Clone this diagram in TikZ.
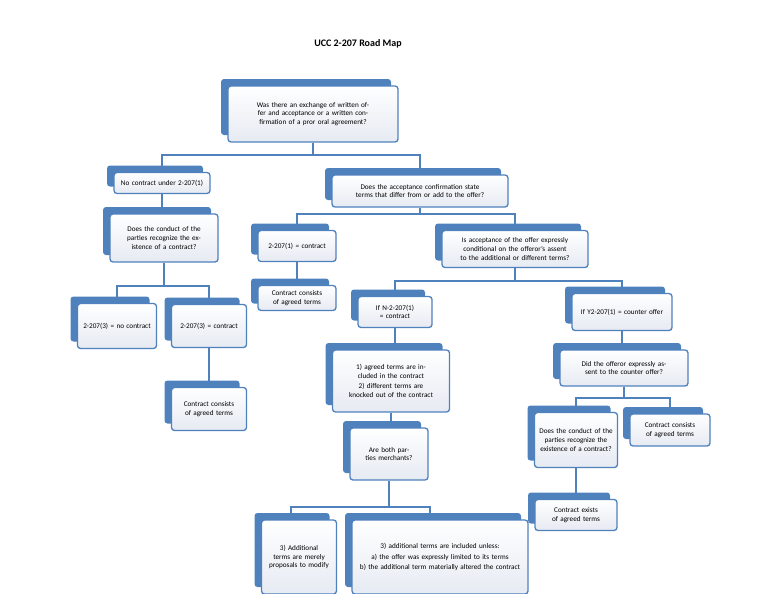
\documentclass[tikz,border=0pt]{standalone}
\usepackage{fontspec}
\setmainfont{Carlito}
\definecolor{tabblue}{HTML}{4F81BD}
\definecolor{lightf}{HTML}{E6EAF2}
\tikzset{
  front/.style={draw=tabblue, line width=1.3pt, rounded corners=3pt, top color=white, bottom color=lightf, align=center, inner sep=1pt, font=\fontsize{7.2}{8.6}\selectfont},
  tab/.style={fill=tabblue, rounded corners=3pt},
  link/.style={draw=tabblue, line width=1.1pt}
}
\newcommand\bx[6]{%
  \fill[tab] ({#2-#4/2-7},{#3-#5/2-7}) rectangle ++(#4,#5);
  \node[front, minimum width=#4pt, minimum height=#5pt, text width={#4pt-8pt}] (#1) at (#2,#3) {#6};
}
\begin{document}
\begin{tikzpicture}[x=1pt,y=-1pt]
\useasboundingbox (0,0) rectangle (768,594);
\node[font=\bfseries\fontsize{10}{12}\selectfont] (title) at (358,44) {UCC 2-207 Road Map};
\bx{q1}{313}{114}{170}{56}{Was there an exchange of written offer and acceptance or a written confirmation of a pror oral agreement?}
\bx{nc}{162}{183}{96}{21}{No contract under 2-207(1)}
\bx{q2}{420}{191}{176}{32}{Does the acceptance confirmation state terms that differ from or add to the offer?}
\bx{q3}{164}{238}{108}{48}{Does the conduct of the parties recognize the existence of a contract?}
\bx{c1}{297}{246}{78}{31}{2-207(1) = contract}
\bx{q4}{515}{249}{146}{37}{Is acceptance of the offer expressly conditional on the offeror's assent to the additional or different terms?}
\bx{ca}{297}{298}{78}{25}{Contract consists of agreed terms}
\bx{n3}{117}{326}{79}{45}{2-207(3) = no contract}
\bx{y3}{209}{326}{75}{43}{2-207(3) = contract}
\bx{nn}{395}{312}{74}{31}{If N-2-207(1) = contract}
\bx{yy}{622}{312}{100}{37}{If Y2-207(1) = counter offer}
\bx{t12}{391}{381}{117}{62}{1) agreed terms are included in the contract\\[2pt] 2) different terms are knocked out of the contract}
\bx{q5}{624}{368}{128}{36}{Did the offeror expressly assent to the counter offer?}
\bx{cb}{209}{409}{75}{43}{Contract consists of agreed terms}
\bx{q6}{389}{454}{78}{52}{Are both parties merchants?}
\bx{q7}{576}{440}{83}{55}{Does the conduct of the parties recognize the existence of a contract?}
\bx{cc}{670}{430}{80}{32}{Contract consists of agreed terms}
\bx{ce}{576}{515}{82}{31}{Contract exists of agreed terms}
\bx{t3}{299}{557}{75}{74}{3) Additional terms are merely proposals to modify}
\bx{t3b}{440}{557}{176}{74}{3) additional terms are included unless:\\[2pt] a) the offer was expressly limited to its terms\\[2pt] b) the additional term materially altered the contract}
\draw[link] (q1.south) -- (q1.south |- 0,155) -| (nc.north);
\draw[link] (q1.south |- 0,155) -| (q2.north);
\draw[link] (nc.south) -- (nc.south |- q3.north);
\draw[link] (q3.south) -- (q3.south |- 0,286) -| (n3.north);
\draw[link] (q3.south |- 0,286) -| (y3.north);
\draw[link] (y3.south) -- (y3.south |- cb.north);
\draw[link] (q2.south) -- (q2.south |- 0,214) -| (c1.north);
\draw[link] (q2.south |- 0,214) -| (q4.north);
\draw[link] (c1.south) -- (c1.south |- ca.north);
\draw[link] (q4.south) -- (q4.south |- 0,281) -| (nn.north);
\draw[link] (q4.south |- 0,281) -| (yy.north);
\draw[link] (nn.south) -- (nn.south |- t12.north);
\draw[link] (t12.south) -- (t12.south |- q6.north);
\draw[link] (q6.south) -- (q6.south |- 0,507) -| (291,520);
\draw[link] (q6.south |- 0,507) -| (430,520);
\draw[link] (yy.south) -- (yy.south |- q5.north);
\draw[link] (q5.south) -- (q5.south |- 0,398) -| (q7.north);
\draw[link] (q5.south |- 0,398) -| (cc.north);
\draw[link] (q7.south) -- (q7.south |- ce.north);
\end{tikzpicture}
\end{document}
